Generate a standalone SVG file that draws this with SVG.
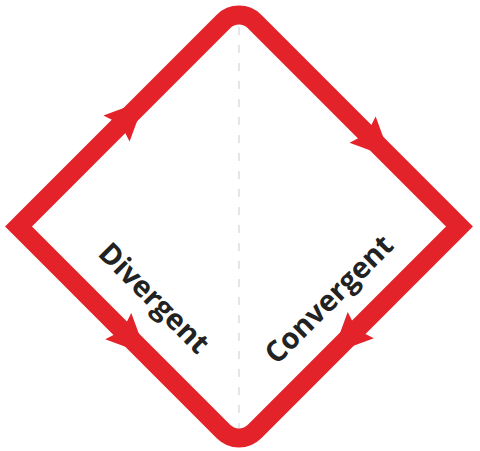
<svg xmlns="http://www.w3.org/2000/svg" width="480" height="451" viewBox="0 0 480 451">
  <style>
    .edge { fill: none; stroke: #E3222A; stroke-width: 19; stroke-linejoin: miter; stroke-miterlimit: 4; }
    .head { fill: #E3222A; }
    .divider { stroke: #DDDDDD; stroke-width: 1.5; stroke-dasharray: 8 10; }
    .label { font-family: "Open Sans", "Liberation Sans", sans-serif; font-weight: 700; font-size: 29px; fill: #222222; text-anchor: middle; }
  </style>
  <defs>
    <path id="ah" d="M 40,0 L 0,-18.5 L 6,0 L 0,18.5 Z"/>
  </defs>
  <rect width="480" height="451" fill="#FFFFFF"/>
  <line class="divider" x1="239" y1="27" x2="239" y2="428"/>
  <g id="connectors">
    <path class="edge" d="M 18.5,226.5 L 223.44,21.56 A 22,22 0 0 1 254.56,21.56 L 459.5,226.5 L 254.56,431.44 A 22,22 0 0 1 223.44,431.44 Z"/>
    <use class="head" href="#ah" transform="translate(116.5,128.5) rotate(-45)"/>
    <use class="head" href="#ah" transform="translate(118.2,326.2) rotate(45)"/>
    <use class="head" href="#ah" transform="translate(362.6,129.6) rotate(45)"/>
    <use class="head" href="#ah" transform="translate(360.8,325.2) rotate(135)"/>
  </g>
  <g id="divergent">
    <text class="label" transform="translate(147,305) rotate(45)">Divergent</text>
  </g>
  <g id="convergent">
    <text class="label" transform="translate(336,306.4) rotate(-45)">Convergent</text>
  </g>
</svg>
